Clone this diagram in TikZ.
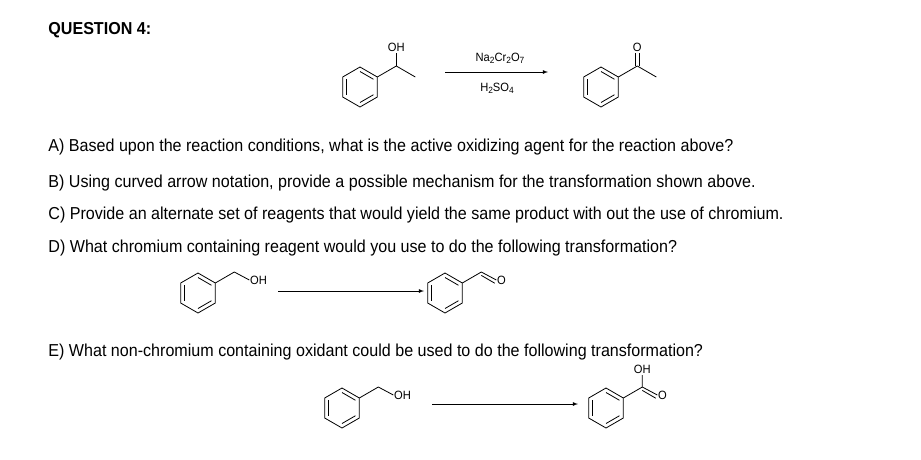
\documentclass[tikz,border=0pt]{standalone}
\usepackage{fontspec}
\setmainfont{Liberation Sans}[FakeStretch=0.93]
\usetikzlibrary{calc}
\newcommand{\sbs}[1]{\raisebox{-0.35ex}{\fontsize{9}{10}\selectfont #1}}
\begin{document}
\begin{tikzpicture}[x=1pt,y=-1pt,line width=0.8pt,
  q/.style={anchor=west,inner sep=0,font=\fontsize{17.3}{20}\selectfont},
  lab/.style={inner sep=0.5pt,font=\fontsize{12}{14}\selectfont},
  benz/.pic={\draw (90:20) -- (30:20) -- (-30:20) -- (-90:20) -- (-150:20) -- (150:20) -- cycle;
    \draw (150:15.5) -- (-150:15.5); \draw (-30:15.5) -- (-90:15.5); \draw (90:15.5) -- (30:15.5);
    \coordinate (-s) at (-30:20);}]
\useasboundingbox (0,0) rectangle (921,459);
\node[q,font=\fontsize{17.3}{20}\selectfont\bfseries] (t) at (48,30) {QUESTION 4:};
% top reaction
\pic (r1) at (360,87) {benz};
\coordinate (c1) at ($(r1-s)+(19,-11)$);
\node[lab,anchor=south] (oh1) at ($(c1)+(0,-13)$) {OH};
\coordinate (m1) at ($(c1)+(19,11)$);
\draw (r1-s) -- (c1) -- (m1); \draw (c1) -- (oh1.south);
\coordinate (a1s) at (445,72); \coordinate (a1e) at (548,72);
\draw[-latex] (a1s) -- (a1e);
\node[lab] (rg1) at (500,58) {Na\sbs{2}Cr\sbs{2}O\sbs{7}};
\node[lab] (rg2) at (497,88) {H\sbs{2}SO\sbs{4}};
\pic (r2) at (601,87) {benz};
\coordinate (c2) at ($(r2-s)+(19,-11)$);
\node[lab,anchor=south] (o2) at ($(c2)+(0,-13)$) {O};
\coordinate (m2) at ($(c2)+(19,11)$);
\draw (r2-s) -- (c2) -- (m2);
\draw ([xshift=-1.6pt]c2) -- ([xshift=-1.6pt]o2.south); \draw ([xshift=1.6pt]c2) -- ([xshift=1.6pt]o2.south);
% questions
\node[q] (qa) at (48,147) {A) Based upon the reaction conditions, what is the active oxidizing agent for the reaction above?};
\node[q] (qb) at (48,183) {B) Using curved arrow notation, provide a possible mechanism for the transformation shown above.};
\node[q] (qc) at (48,215) {C) Provide an alternate set of reagents that would yield the same product with out the use of chromium.};
\node[q] (qd) at (48,248) {D) What chromium containing reagent would you use to do the following transformation?};
% D reaction
\pic (r3) at (198,293) {benz};
\coordinate (c3) at ($(r3-s)+(19,-11)$);
\node[lab,anchor=west] (oh3) at ($(c3)+(15,8)$) {OH};
\draw (r3-s) -- (c3) -- (oh3.west);
\coordinate (a2s) at (278,291); \coordinate (a2e) at (424,291);
\draw[-latex] (a2s) -- (a2e);
\pic (r4) at (445,293) {benz};
\coordinate (c4) at ($(r4-s)+(19,-11)$);
\node[lab,anchor=west] (o4) at ($(c4)+(15,8)$) {O};
\draw (r4-s) -- (c4) -- (o4.west);
\draw ($(c4)+(0,3.4)$) -- ($(o4.west)+(-1.6,3.2)$);
\node[q] (qe) at (48,352) {E) What non-chromium containing oxidant could be used to do the following transformation?};
% E reaction
\pic (r5) at (342,408) {benz};
\coordinate (c5) at ($(r5-s)+(19,-11)$);
\node[lab,anchor=west] (oh5) at ($(c5)+(15,8)$) {OH};
\draw (r5-s) -- (c5) -- (oh5.west);
\coordinate (a3s) at (432,404); \coordinate (a3e) at (578,404);
\draw[-latex] (a3s) -- (a3e);
\pic (r6) at (606,408) {benz};
\coordinate (c6) at ($(r6-s)+(19,-11)$);
\node[lab,anchor=south] (oh6) at ($(c6)+(0,-12)$) {OH};
\node[lab,anchor=west] (o6) at ($(c6)+(15,8)$) {O};
\draw (r6-s) -- (c6) -- (oh6.south);
\draw (c6) -- (o6.west); \draw ($(c6)+(0,3.4)$) -- ($(o6.west)+(-1.6,3.2)$);
\end{tikzpicture}
\end{document}
